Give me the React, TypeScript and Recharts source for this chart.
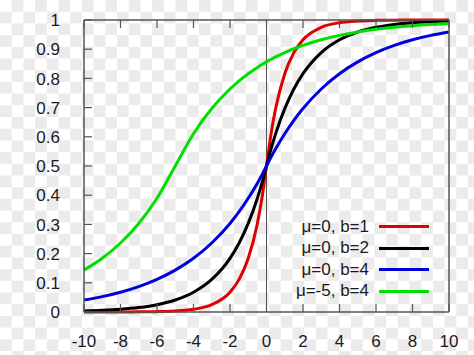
import React from 'react'
import { LineChart, Line, XAxis, YAxis, ReferenceLine } from 'recharts'

// x positions where the curves were sampled
const xValues = [-10, -9, -8, -7, -6, -5, -4, -3, -2, -1.5, -1, -0.5, -0.25, 0, 0.25, 0.5, 1, 1.5, 2, 3, 4, 5, 6, 7, 8, 9, 10]

const red = [0.0, 0.0001, 0.0002, 0.0005, 0.0012, 0.0034, 0.0092, 0.0249, 0.0677, 0.1116, 0.1839, 0.3033, 0.3894, 0.5, 0.6106, 0.6967, 0.8161, 0.8884, 0.9323, 0.9751, 0.9908, 0.9966, 0.9988, 0.9995, 0.9998, 0.9999, 1.0]
const black = [0.0034, 0.0056, 0.0092, 0.0151, 0.0249, 0.041, 0.0677, 0.1116, 0.1839, 0.2362, 0.3033, 0.3894, 0.4412, 0.5, 0.5588, 0.6106, 0.6967, 0.7638, 0.8161, 0.8884, 0.9323, 0.959, 0.9751, 0.9849, 0.9908, 0.9944, 0.9966]
const blue = [0.041, 0.0527, 0.0677, 0.0869, 0.1116, 0.1433, 0.1839, 0.2362, 0.3033, 0.3436, 0.3894, 0.4412, 0.4697, 0.5, 0.5303, 0.5588, 0.6106, 0.6564, 0.6967, 0.7638, 0.8161, 0.8567, 0.8884, 0.9131, 0.9323, 0.9473, 0.959]
const green = [0.1433, 0.1839, 0.2362, 0.3033, 0.3894, 0.5, 0.6106, 0.6967, 0.7638, 0.7916, 0.8161, 0.8377, 0.8475, 0.8567, 0.8654, 0.8736, 0.8884, 0.9016, 0.9131, 0.9323, 0.9473, 0.959, 0.968, 0.9751, 0.9806, 0.9849, 0.9882]

const xTicks = [-10, -8, -6, -4, -2, 0, 2, 4, 6, 8, 10]
const yTicks = [0, 0.1, 0.2, 0.3, 0.4, 0.5, 0.6, 0.7, 0.8, 0.9, 1]

const series = [
    { key: 'red', name: 'μ=0, b=1', color: '#e00000' },
    { key: 'black', name: 'μ=0, b=2', color: '#000000' },
    { key: 'blue', name: 'μ=0, b=4', color: '#0000dd' },
    { key: 'green', name: 'μ=-5, b=4', color: '#00e000' },
]

const data = xValues.map((x, i) => ({
    x,
    red: red[i],
    black: black[i],
    blue: blue[i],
    green: green[i],
}))

const axisColor = '#555'
const fontFamily = '"Liberation Sans", Arial, sans-serif'
const TICK = 8

// tick marks point into the plot, labels sit outside
const LeftTick = (props: any) => {
    const { x, y, payload } = props
    const ax = x + 24
    return (
        <g>
            <line x1={ax} x2={ax + TICK} y1={y} y2={y} stroke={axisColor} strokeWidth={1.2} />
            <text x={x} y={y} dy="0.36em" textAnchor="end" fontSize={17} fill="#1a1a1a" fontFamily={fontFamily}>
                {payload.value}
            </text>
        </g>
    )
}

const BottomTick = (props: any) => {
    const { x, y, payload } = props
    const ay = y - 23
    return (
        <g>
            <line x1={x} x2={x} y1={ay} y2={ay - TICK} stroke={axisColor} strokeWidth={1.2} />
            <text x={x} y={y} dy="0.71em" textAnchor="middle" fontSize={17} fill="#1a1a1a" fontFamily={fontFamily}>
                {payload.value}
            </text>
        </g>
    )
}

const RightTick = (props: any) => (
    <line x1={props.x} x2={props.x - TICK} y1={props.y} y2={props.y} stroke={axisColor} strokeWidth={1.2} />
)

const TopTick = (props: any) => (
    <line x1={props.x} x2={props.x} y1={props.y} y2={props.y + TICK} stroke={axisColor} strokeWidth={1.2} />
)

function LegendBox() {
    return (
        <div
            style={{
                position: 'absolute',
                left: 259,
                top: 216,
                fontFamily,
                fontSize: 17,
                color: '#1a1a1a',
            }}
        >
            {series.map((s) => (
                <div key={s.key} style={{ display: 'flex', alignItems: 'center', height: 21.5 }}>
                    <span style={{ width: 110, textAlign: 'right', whiteSpace: 'nowrap' }}>{s.name}</span>
                    <span style={{ width: 50, height: 3, background: s.color, marginLeft: 10 }} />
                </div>
            ))}
        </div>
    )
}

// transparency checkerboard behind the figure
function Checker() {
    return (
        <svg width={474} height={355} style={{ position: 'absolute', left: 0, top: 0 }}>
            <defs>
                <pattern id="chk" width={23.4} height={23.4} patternUnits="userSpaceOnUse">
                    <rect width={23.4} height={23.4} fill="#ffffff" />
                    <rect x={11.7} y={0} width={11.7} height={11.7} fill="#ebebeb" />
                    <rect x={0} y={11.7} width={11.7} height={11.7} fill="#ebebeb" />
                </pattern>
            </defs>
            <rect width={474} height={355} fill="url(#chk)" />
        </svg>
    )
}

export default function App() {
    return (
        <div style={{ position: 'absolute', left: 0, top: 0, width: 474, height: 355, background: '#fff' }}>
            <Checker />
            <div style={{ position: 'absolute', left: 0, top: 0 }}>
                <LineChart width={474} height={355} data={data} margin={{ top: 19, right: 24, bottom: 13, left: 0 }}>
                    <XAxis
                        dataKey="x"
                        type="number"
                        domain={[-10, 10]}
                        ticks={xTicks}
                        interval={0}
                        height={30}
                        stroke={axisColor}
                        strokeWidth={1.5}
                        tickLine={false}
                        tickSize={0}
                        tickMargin={23}
                        tick={<BottomTick />}
                    />
                    <XAxis
                        xAxisId="top"
                        orientation="top"
                        dataKey="x"
                        type="number"
                        domain={[-10, 10]}
                        ticks={xTicks}
                        interval={0}
                        height={1}
                        stroke={axisColor}
                        strokeWidth={1.5}
                        tickLine={false}
                        tickSize={0}
                        tickMargin={0}
                        tick={<TopTick />}
                    />
                    <YAxis
                        type="number"
                        domain={[0, 1]}
                        ticks={yTicks}
                        interval={0}
                        width={84}
                        stroke={axisColor}
                        strokeWidth={1.5}
                        tickLine={false}
                        tickSize={0}
                        tickMargin={24}
                        tick={<LeftTick />}
                    />
                    <YAxis
                        yAxisId="right"
                        orientation="right"
                        type="number"
                        domain={[0, 1]}
                        ticks={yTicks}
                        interval={0}
                        width={1}
                        stroke={axisColor}
                        strokeWidth={1.5}
                        tickLine={false}
                        tickSize={0}
                        tickMargin={0}
                        tick={<RightTick />}
                    />
                    <ReferenceLine x={0} stroke={axisColor} strokeWidth={1} />
                    {series.map((s) => (
                        <Line
                            key={s.key}
                            type="monotone"
                            dataKey={s.key}
                            name={s.name}
                            stroke={s.color}
                            strokeWidth={3}
                            dot={false}
                            isAnimationActive={false}
                        />
                    ))}
                </LineChart>
            </div>
            <LegendBox />
        </div>
    )
}
